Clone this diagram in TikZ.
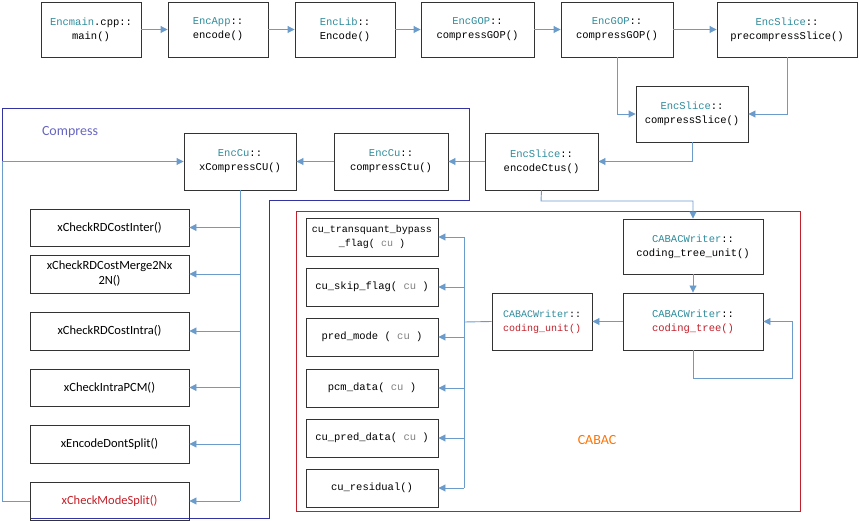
\documentclass[tikz,border=0pt]{standalone}
\usepackage{fontspec}
\setmainfont{Liberation Mono}
\newfontfamily\calfont{Carlito}
\usetikzlibrary{arrows.meta}
\definecolor{ln}{HTML}{6A9BCB}
\definecolor{tl}{HTML}{2E8C9C}
\definecolor{rd}{HTML}{C0202A}
\begin{document}
\begin{tikzpicture}[x=1pt,y=-1pt,
  bx/.style={draw=black!80,line width=0.9pt,inner sep=0pt,align=center,font=\fontsize{10.5}{14}\selectfont},
  lb/.style={draw=black!80,line width=0.9pt,inner sep=0pt,align=center,font=\calfont\fontsize{12.5}{15}\selectfont},
  ar/.style={draw=ln,line width=0.9pt,-{Triangle[length=7pt,width=7pt]}},
  pl/.style={draw=ln,line width=0.9pt}]
\useasboundingbox (0,0) rectangle (859,521);
\newcommand{\B}[6]{\node[#6,minimum width=#3-#2,minimum height=#5-#4] (#1) at ({(#2+#3)/2},{(#4+#5)/2}) {};}
% top row
\B{m}{41}{141}{2}{57}{bx}\node[bx,draw=none] at (m) {\textcolor{tl}{Encmain}.cpp::\\main()};
\B{ea}{168}{268}{2}{57}{bx}\node[bx,draw=none] at (ea) {\textcolor{tl}{EncApp}::\\encode()};
\B{el}{295}{395}{2}{57}{bx}\node[bx,draw=none] at (el) {\textcolor{tl}{EncLib}::\\Encode()};
\B{g1}{421}{534}{2}{57}{bx}\node[bx,draw=none] at (g1) {\textcolor{tl}{EncGOP}::\\compressGOP()};
\B{g2}{561}{673}{2}{57}{bx}\node[bx,draw=none] at (g2) {\textcolor{tl}{EncGOP}::\\compressGOP()};
\B{ps}{717}{857}{2}{57}{bx}\node[bx,draw=none] at (ps) {\textcolor{tl}{EncSlice}::\\precompressSlice()};
\B{cs}{636}{748}{86}{142}{bx}\node[bx,draw=none] at (cs) {\textcolor{tl}{EncSlice}::\\compressSlice()};
\B{ec}{485}{598}{133}{190}{bx}\node[bx,draw=none] at (ec) {\textcolor{tl}{EncSlice}::\\encodeCtus()};
\B{ct}{334}{448}{133}{190}{bx}\node[bx,draw=none] at (ct) {\textcolor{tl}{EncCu}::\\compressCtu()};
\B{xc}{184}{296}{133}{190}{bx}\node[bx,draw=none] at (xc) {\textcolor{tl}{EncCu}::\\xCompressCU()};
\draw[ar] (m) -- (ea); \draw[ar] (ea) -- (el); \draw[ar] (el) -- (g1); \draw[ar] (g1) -- (g2); \draw[ar] (g2) -- (ps);
\draw[ar] (g2.south) |- (cs.west);
\draw[ar] (ps.south) |- (cs.east);
\draw[ar] (cs.south) |- (ec.east);
\draw[ar] (ec) -- (ct); \draw[ar] (ct) -- (xc);
% compress frame
\draw[draw=blue!55!black!80,line width=0.9pt] (2,363) -- (2,108) -- (469,108) -- (469,200) -- (269,200) -- (269,518) -- (30,518);
\node[font=\calfont\fontsize{14}{16}\selectfont,text=blue!60!black!60!white] at (70,132) {Compress};
% left list
\B{a1}{30}{189}{209}{246}{lb}\node[lb,draw=none] at (a1) {xCheckRDCostInter()};
\B{a2}{30}{189}{255}{293}{lb}\node[lb,draw=none,text width=158pt] at (a2) {xCheckRDCostMerge2Nx\\2N()};
\B{a3}{30}{189}{312}{350}{lb}\node[lb,draw=none] at (a3) {xCheckRDCostIntra()};
\B{a4}{30}{189}{369}{406}{lb}\node[lb,draw=none] at (a4) {xCheckIntraPCM()};
\B{a5}{30}{189}{425}{463}{lb}\node[lb,draw=none] at (a5) {xEncodeDontSplit()};
\B{a6}{30}{189}{482}{520}{lb}\node[lb,draw=none,text=rd!90!red] at (a6) {xCheckModeSplit()};
\coordinate (bb) at (240,501);
\draw[pl] (xc.south -| bb) -- (bb);
\foreach \n in {a1,a2,a3,a4,a5,a6} \draw[ar] (\n.east -| bb) -- (\n.east);
\draw[ar] (a6.west) -- (2,501) |- (xc.west);
% CABAC
\draw[draw=rd,line width=0.9pt] (296,211) rectangle (800,511);
\node[font=\calfont\fontsize{14}{16}\selectfont,text=orange!90!red] at (597,440) {CABAC};
\B{tu}{623}{763}{219}{274}{bx}\node[bx,draw=none] at (tu) {\textcolor{tl}{CABACWriter}::\\coding\_tree\_unit()};
\B{tr}{623}{763}{293}{350}{bx}\node[bx,draw=none] at (tr) {\textcolor{tl}{CABACWriter}::\\\textcolor{rd}{coding\_tree()}};
\B{cu}{492}{592}{293}{350}{bx}\node[bx,draw=none,font=\fontsize{10}{14}\selectfont] at (cu) {\textcolor{tl}{CABACWriter}::\\\textcolor{rd}{coding\_unit()}};
\draw[ar] (ec.south) -- (541,201) -| (tu.north);
\draw[ar] (tu) -- (tr);
\draw[ar] (tr) -- (cu);
\draw[ar] (tr.south) -- (693,378) -- (792,378) |- (tr.east);
\B{c1}{306}{438}{218}{256}{bx}\node[bx,draw=none,font=\fontsize{10}{14}\selectfont] at (c1) {cu\_transquant\_bypass\\\_flag( \textcolor{gray}{cu} )};
\B{c2}{306}{438}{268}{306}{bx}\node[bx,draw=none] at (c2) {cu\_skip\_flag( \textcolor{gray}{cu} )};
\B{c3}{306}{438}{318}{356}{bx}\node[bx,draw=none] at (c3) {pred\_mode ( \textcolor{gray}{cu} )};
\B{c4}{306}{438}{369}{407}{bx}\node[bx,draw=none] at (c4) {pcm\_data( \textcolor{gray}{cu} )};
\B{c5}{306}{438}{419}{457}{bx}\node[bx,draw=none] at (c5) {cu\_pred\_data( \textcolor{gray}{cu} )};
\B{c6}{306}{438}{469}{507}{bx}\node[bx,draw=none] at (c6) {cu\_residual()};
\coordinate (cb) at (464,322);
\draw[pl] (cu.west) -- (cb);
\draw[pl] (464,237) -- (464,488);
\foreach \n in {c1,c2,c3,c4,c5,c6} \draw[ar] (\n.east -| cb) -- (\n.east);
\end{tikzpicture}
\end{document}
